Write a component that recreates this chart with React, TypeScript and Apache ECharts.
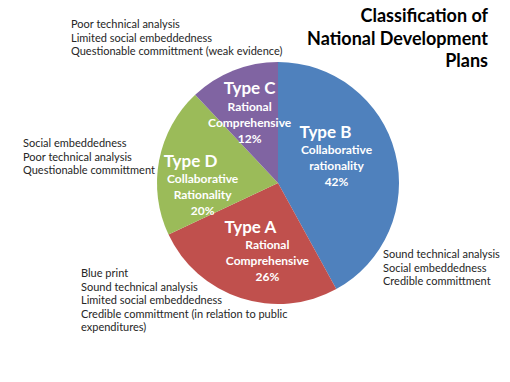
import React, { useEffect, useRef } from "react";
import * as echarts from "echarts";

const types = ["Type B", "Type A", "Type D", "Type C"];
const subtitles = [
  ["Collaborative", "rationality"],
  ["Rational", "Comprehensive"],
  ["Collaborative", "Rationality"],
  ["Rational", "Comprehensive"],
];
const shares = [42, 26, 20, 12];
const colors = ["#4F81BD", "#C0504D", "#9BBB59", "#8064A2"];

const titleLines = ["Classification of", "National Development", "Plans"];
const noteTop = ["Poor technical analysis", "Limited social embeddedness", "Questionable committment (weak evidence)"];
const noteLeft = ["Social embeddedness", "Poor technical analysis", "Questionable committment"];
const noteBottom = [
  "Blue print",
  "Sound technical analysis",
  "Limited social embeddedness",
  "Credible committment (in relation to public",
  "expenditures)",
];
const noteRight = ["Sound technical analysis", "Social embeddedness", "Credible committment"];

const labelShift = [
  [-3, -12],
  [9, 7],
  [-13, 13],
  [-5, -12],
];
const typePad = [22, 34, 24, 0];

const FONT = "Lato, 'Open Sans', sans-serif";

export default function App() {
  const ref = useRef<HTMLDivElement>(null);
  useEffect(() => {
    if (!ref.current) return;
    const chart = echarts.init(ref.current, null, { renderer: "svg" });
    const note = (lines: string[], x: number, y: number) => ({
      type: "text",
      left: x,
      top: y,
      style: {
        text: lines.join("\n"),
        font: `11px ${FONT}`,
        lineHeight: 13.5,
        fill: "#262626",
      },
    });
    chart.setOption({
      animation: false,
      backgroundColor: "#ffffff",
      graphic: [
        ...titleLines.map((line, i) => ({
          type: "text",
          right: 22,
          top: 6 + i * 22.5,
          style: {
            text: line,
            font: `bold 18px ${FONT}`,
            fill: "#000000",
          },
        })),
        note(noteTop, 71, 17),
        note(noteLeft, 23, 136),
        note(noteBottom, 81, 266),
        note(noteRight, 383, 247),
      ],
      series: [
        {
          type: "pie",
          center: [278, 183],
          radius: 121,
          startAngle: 90,
          clockwise: true,
          silent: true,
          data: types.map((t, i) => ({
            name: t,
            value: shares[i],
            itemStyle: { color: colors[i] },
            label: {
              formatter: () =>
                `{t${i}|${t}}\n{s|${subtitles[i][0]}}\n{s|${subtitles[i][1]}}\n{s|${shares[i]}%}`,
            },
          })),
          label: {
            show: true,
            position: "inside",
            color: "#ffffff",
            align: "center",
            rich: {
              ...Object.fromEntries(
                typePad.map((p, i) => [
                  `t${i}`,
                  {
                    fontFamily: FONT,
                    fontWeight: "bold",
                    fontSize: 17,
                    color: "#ffffff",
                    lineHeight: 21,
                    padding: [0, p, 0, 0],
                  },
                ])
              ),
              s: {
                fontFamily: FONT,
                fontWeight: "bold",
                fontSize: 12,
                color: "#ffffff",
                lineHeight: 16,
              },
            },
          },
          labelLine: { show: false },
          labelLayout: (params: any) => ({
            dx: labelShift[params.dataIndex][0],
            dy: labelShift[params.dataIndex][1],
          }),
        },
      ],
    });
    return () => chart.dispose();
  }, []);
  return (
    <div
      ref={ref}
      style={{ position: "fixed", left: 0, top: 0, width: 510, height: 382 }}
    />
  );
}
